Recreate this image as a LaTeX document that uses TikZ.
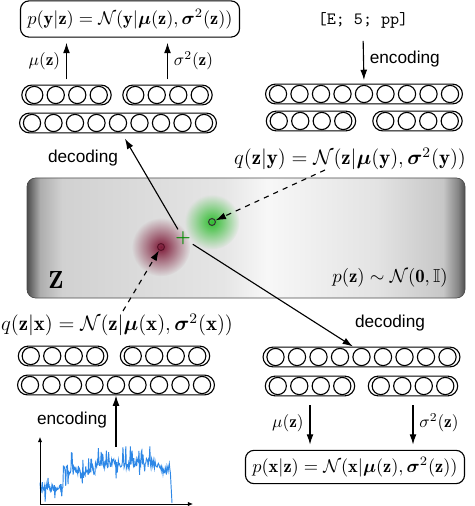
\RequirePackage{fix-cm}
\documentclass[tikz,border=0pt]{standalone}
\usepackage{amsmath}
\usepackage{amssymb}
\usepackage{bm}
\usepackage{fontspec}
\setsansfont{Liberation Sans}
\usepackage{tikz}
\usetikzlibrary{arrows.meta,fadings}
\definecolor{specblue}{RGB}{45,135,230}
\definecolor{blobred}{RGB}{125,25,55}
\definecolor{blobgreen}{RGB}{50,190,50}
\pgfdeclarehorizontalshading{zspace}{100bp}{color(0bp)=(black!70); color(25bp)=(black!70); color(26.5bp)=(black!32); color(29bp)=(black!18); color(47.5bp)=(black!10); color(52.5bp)=(black!3); color(65bp)=(black!11); color(72.5bp)=(black!22); color(74.2bp)=(black!48); color(75bp)=(black!70); color(100bp)=(black!70)}
\tikzfading[name=blobfade,inner color=transparent!0,outer color=transparent!100]
\newcommand{\layer}[4]{
	\node (#1) [layer,minimum width=#4*12.47pt+2pt] at (#2,#3) {};
	\foreach \i in {1,...,#4}{
		\node (#1\i) [unit] at ({#2+(\i-(#4+1)/2)*21.5},#3) {};
	}
}

\begin{document}
\begin{tikzpicture}[x=0.58pt,y=-0.58pt,
	unit/.style={circle,draw,inner sep=0pt,minimum size=10pt,line width=0.65pt},
	layer/.style={draw,rounded corners=5.8pt,minimum height=11.5pt,inner sep=0pt,line width=0.65pt},
	dist/.style={draw,rounded corners=5pt,inner sep=4pt,line width=0.65pt,font=\fontsize{10.65pt}{12pt}\selectfont},
	post/.style={font=\fontsize{12.1pt}{14pt}\selectfont},
	zmark/.style={circle,draw,inner sep=0pt,minimum size=4pt,semithick},
	lbl/.style={font=\sffamily},
	arr/.style={-{Latex[length=6pt,width=4pt]},line width=0.65pt},
	darr/.style={-{Latex[length=6pt,width=4pt]},line width=0.65pt,dashed}]
\useasboundingbox (0,0) rectangle (474,506);
\shadedraw[shading=zspace,draw=black!70,rounded corners=5pt] (27,178) rectangle (465,298);
\fill[blobred,path fading=blobfade] (161,247) circle (17pt);
\fill[blobgreen,path fading=blobfade] (212,222) circle (16pt);
\node (xmark) [zmark,draw=blobred!70!black] at (161,247) {};
\node (ymark) [zmark,draw=black!80] at (212,222) {};
\node (zmean) [text=green!55!black,inner sep=1pt] at (183,238) {$\bm{+}$};
\node (zname) at (56,280) {\Large$\mathbf{Z}$};
\node (prior) [font=\fontsize{10.9pt}{12pt}\selectfont] at (390,278) {$p(\mathbf{z})\sim\mathcal{N}(\mathbf{0},\mathbb{I})$};

\layer{decm}{66.5}{95}{4}
\layer{decs}{167.5}{95}{4}
\layer{decb}{118}{123}{9}
\layer{enct}{364}{94}{9}
\layer{encm}{311}{121}{4}
\layer{encs}{417.5}{121}{4}
\layer{xencm}{63}{356}{4}
\layer{xencs}{165}{356}{4}
\layer{xencb}{116}{385}{9}
\layer{xdect}{361.5}{357}{9}
\layer{xdecm}{310}{386}{4}
\layer{xdecs}{413}{386}{4}

\node (pyz) [dist,minimum height=21pt] at (130,19) {$p(\mathbf{y}|\mathbf{z})=\mathcal{N}(\mathbf{y}|\bm{\mu}(\mathbf{z}),\bm{\sigma}^2(\mathbf{z}))$};
\node (pxz) [dist] at (355,467) {$p(\mathbf{x}|\mathbf{z})=\mathcal{N}(\mathbf{x}|\bm{\mu}(\mathbf{z}),\bm{\sigma}^2(\mathbf{z}))$};
\node (qy) [post] at (350,159) {$q(\mathbf{z}|\mathbf{y})=\mathcal{N}(\mathbf{z}|\bm{\mu}(\mathbf{y}),\bm{\sigma}^2(\mathbf{y}))$};
\node (qx) [post] at (117,325) {$q(\mathbf{z}|\mathbf{x})=\mathcal{N}(\mathbf{z}|\bm{\mu}(\mathbf{x}),\bm{\sigma}^2(\mathbf{x}))$};
\node (ytxt) at (363,20) {\texttt{[E; 5; pp]}};
\node (dectop) [lbl] at (83,158) {decoding};
\node (decbot) [lbl] at (390,323) {decoding};
\node (encbot) [lbl] at (72,420) {encoding};
\coordinate (qyfoot) at (325,170);
\coordinate (qxhead) at (123,311);
\coordinate (sig) at (116,447);

\draw[arr,shorten <=3pt,shorten >=3pt] (decm.north) -- (decm.north |- pyz.south) node[midway,left] {$\mu(\mathbf{z})$};
\draw[arr,shorten <=3pt,shorten >=3pt] (decs.north) -- (decs.north |- pyz.south) node[midway,right] {$\sigma^2(\mathbf{z})$};
\draw[arr,shorten <=5pt,shorten >=3pt] (xdecm.south) -- (xdecm.south |- pxz.north) node[midway,left] {$\mu(\mathbf{z})$};
\draw[arr,shorten <=5pt,shorten >=3pt] (xdecs.south) -- (xdecs.south |- pxz.north) node[midway,right] {$\sigma^2(\mathbf{z})$};
\draw[arr,shorten <=4pt,shorten >=2pt] (ytxt.south) -- (enct.north) node[midway,right,lbl] {encoding};
\draw[arr] (zmean) -- ([xshift=4pt,yshift=-3pt]decb.south);
\draw[arr] (zmean) -- ([xshift=-5pt]xdect.north);
\draw[arr] (sig) -- (xencb.south);
\draw[darr] (qyfoot) -- (ymark);
\draw[darr] (qxhead) -- (xmark);

\pgfmathsetseed{5}
\draw[specblue,line width=0.55pt] plot[domain=40:171,samples=230] (\x,{487-17*(\x>=63)-7*(\x>=95)*(\x<160)+5*rand-13*(rnd>0.88)+11*(rnd>0.93)}) -- (172,503);
\draw[-{Latex[length=3pt,width=2.5pt]}] (40,504) -- (40,437);
\draw[-{Latex[length=3pt,width=2.5pt]}] (40,504) -- (193,504);
\end{tikzpicture}
\end{document}
